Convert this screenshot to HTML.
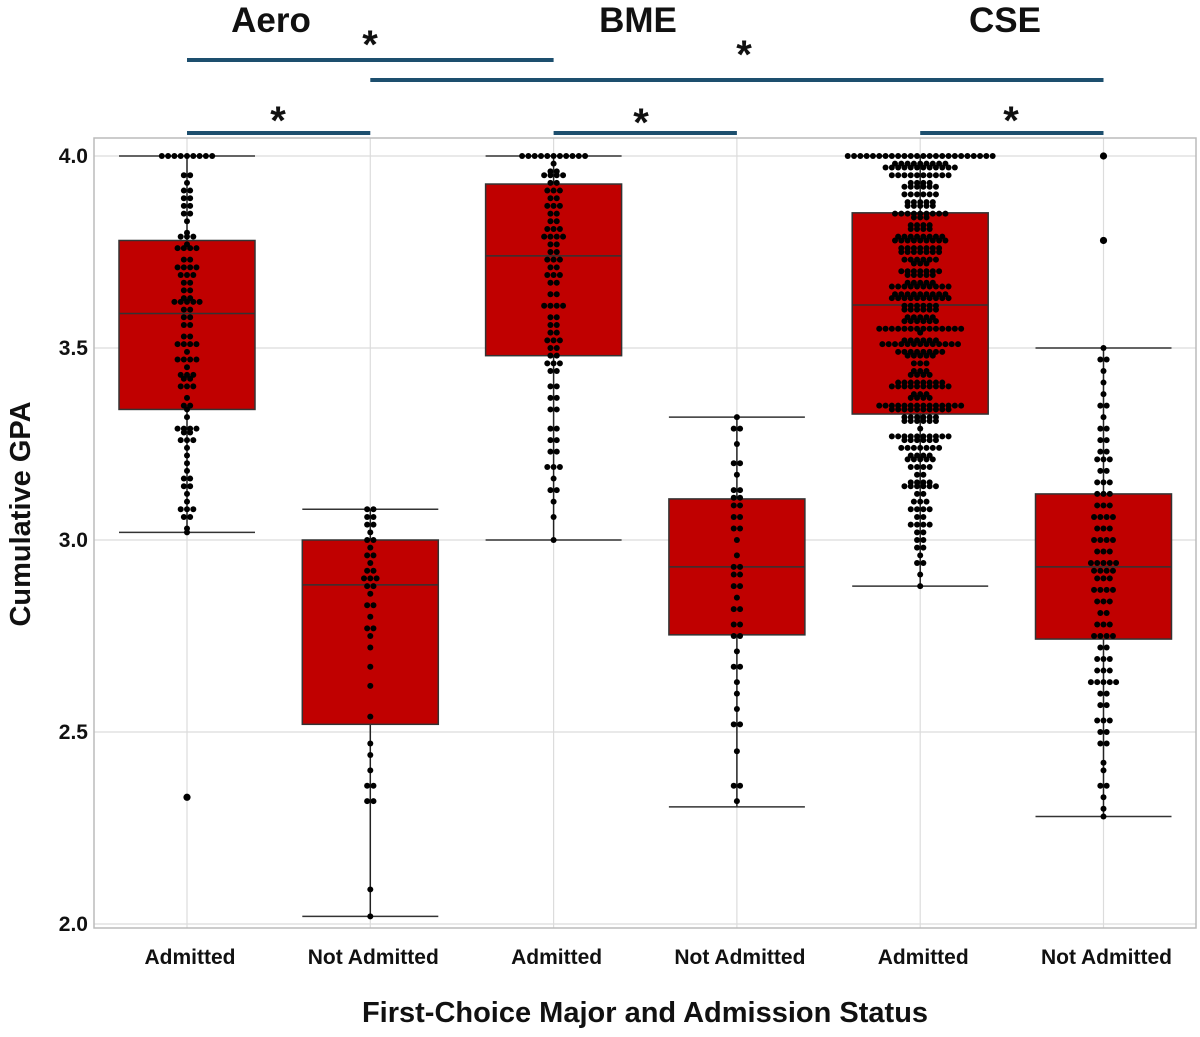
<!DOCTYPE html>
<html><head><meta charset="utf-8"><style>
body{margin:0;background:#fff;}
svg text{font-family:"Liberation Sans",Arial,sans-serif;font-weight:bold;fill:#111;}
</style></head><body>
<svg id="chart" width="1200" height="1032" xmlns="http://www.w3.org/2000/svg"></svg>
<script>
const categories=["Admitted","Not Admitted","Admitted","Not Admitted","Admitted","Not Admitted"];
const majors=["Aero","BME","CSE"];
const yTicks=[2.0,2.5,3.0,3.5,4.0];
const q1=[3.34,2.52,3.48,2.753,3.328,2.742];
const medians=[3.59,2.883,3.74,2.93,3.612,2.93];
const q3=[3.78,3.0,3.927,3.107,3.852,3.12];
const whiskLo=[3.02,2.02,3.0,2.305,2.88,2.28];
const whiskHi=[4.0,3.08,4.0,3.32,4.0,3.5];
const outliers=[[2.33],[],[],[],[],[4.0,3.78]];
const vals0=[4.00,3.95,3.93,3.91,3.89,3.87,3.85,3.83,3.80,3.79,3.77,3.76,3.73,3.71,3.69,3.67,3.65,3.63,3.62,3.60,3.58,3.56,3.53,3.51,3.49,3.47,3.45,3.43,3.42,3.40,3.37,3.35,3.34,3.32,3.29,3.28,3.26,3.24,3.22,3.20,3.18,3.16,3.14,3.12,3.10,3.08,3.06,3.03,3.02,2.33];
const cnt0=[9,2,1,2,2,2,2,1,1,3,1,4,2,4,3,2,2,2,5,2,2,2,2,4,1,4,1,3,2,3,1,2,1,1,4,2,3,1,1,1,1,2,2,1,1,3,2,1,1,1];
const vals1=[3.08,3.06,3.04,3.02,3.0,2.98,2.96,2.94,2.92,2.90,2.88,2.86,2.83,2.80,2.77,2.75,2.72,2.67,2.62,2.54,2.47,2.44,2.40,2.36,2.32,2.09,2.02];
const cnt1=[2,2,2,1,2,1,2,1,2,3,2,1,2,1,2,1,1,1,1,1,1,1,1,2,2,1,1];
const vals2=[4.00,3.98,3.96,3.95,3.93,3.91,3.89,3.87,3.85,3.83,3.81,3.79,3.77,3.75,3.73,3.71,3.69,3.67,3.64,3.61,3.58,3.56,3.54,3.52,3.50,3.48,3.46,3.44,3.40,3.37,3.34,3.29,3.26,3.23,3.19,3.16,3.13,3.10,3.06,3.0];
const cnt2=[11,1,2,4,2,3,2,3,2,2,3,4,2,2,3,2,3,2,2,4,2,2,2,3,2,2,3,2,2,2,2,2,2,2,3,1,2,1,1,1];
const vals3=[3.32,3.29,3.25,3.20,3.17,3.13,3.11,3.09,3.06,3.03,3.0,2.96,2.93,2.91,2.88,2.85,2.82,2.78,2.75,2.71,2.67,2.63,2.60,2.56,2.52,2.45,2.36,2.32];
const cnt3=[1,2,1,2,1,2,2,2,2,2,1,1,2,2,2,1,2,2,2,1,2,1,1,1,2,1,2,1];
const vals4=[4.00,3.98,3.97,3.95,3.93,3.92,3.90,3.88,3.87,3.85,3.84,3.82,3.81,3.79,3.78,3.76,3.75,3.73,3.72,3.70,3.69,3.67,3.66,3.64,3.63,3.61,3.60,3.58,3.57,3.55,3.54,3.52,3.51,3.49,3.48,3.46,3.44,3.43,3.41,3.40,3.38,3.37,3.35,3.34,3.32,3.31,3.29,3.27,3.26,3.24,3.22,3.21,3.19,3.17,3.15,3.14,3.12,3.10,3.08,3.06,3.04,3.02,3.00,2.98,2.96,2.94,2.91,2.88];
const cnt4=[24,9,12,10,4,6,6,5,5,9,3,4,4,8,9,7,7,6,3,7,5,5,10,9,10,6,6,5,6,14,1,6,13,8,5,3,3,4,8,10,3,4,14,10,6,6,1,10,6,7,4,5,4,2,4,6,2,3,4,2,4,2,2,2,1,2,1,1];
const vals5=[4.0,3.78,3.50,3.47,3.44,3.41,3.38,3.35,3.32,3.29,3.26,3.23,3.21,3.18,3.15,3.12,3.09,3.06,3.03,3.0,2.97,2.94,2.92,2.90,2.87,2.84,2.81,2.78,2.75,2.72,2.69,2.66,2.63,2.60,2.57,2.53,2.50,2.47,2.42,2.40,2.36,2.33,2.30,2.28];
const cnt5=[1,1,1,2,1,1,1,2,1,2,2,2,3,2,3,3,3,4,3,4,3,5,4,3,4,3,2,3,4,2,3,3,5,2,2,3,2,2,1,1,2,1,1,1];
const allVals=[vals0,vals1,vals2,vals3,vals4,vals5];
const allCnt=[cnt0,cnt1,cnt2,cnt3,cnt4,cnt5];

const NS="http://www.w3.org/2000/svg";
const svg=document.getElementById('chart');
const L=94,R=1196,T=138,B=928;
const y=v=>156+(4-v)*384;
const x=i=>187+i*183.3;
function mk(tag,attrs,parent){const e=document.createElementNS(NS,tag);for(const k in attrs)e.setAttribute(k,attrs[k]);(parent||svg).appendChild(e);return e;}

let g=mk('g',{});


yTicks.forEach(t=>{mk('line',{x1:L,x2:R,y1:y(t),y2:y(t),stroke:'#dcdcdc','stroke-width':1.2},g);});
categories.forEach((c,i)=>{mk('line',{x1:x(i),x2:x(i),y1:T,y2:B,stroke:'#dcdcdc','stroke-width':1.2},g);});
let fr=mk('rect',{x:L,y:T,width:R-L,height:B-T,fill:'none',stroke:'#bbb','stroke-width':1.5});



yTicks.forEach(t=>{let e=mk('text',{x:88,y:y(t)+7,'text-anchor':'end','font-size':21});e.textContent=t.toFixed(1);

});
categories.forEach((c,i)=>{let e=mk('text',{x:x(i)+3,y:964,'text-anchor':'middle','font-size':21});e.textContent=c;

});

const hw=68;
categories.forEach((c,i)=>{
  const bg=mk('g',{});
  
  
  const cx=x(i);
  mk('line',{x1:cx,x2:cx,y1:y(whiskHi[i]),y2:y(whiskLo[i]),stroke:'#222','stroke-width':1.5},bg);
  mk('rect',{x:cx-hw,y:y(q3[i]),width:2*hw,height:y(q1[i])-y(q3[i]),fill:'#c00000',stroke:'#333','stroke-width':1.5},bg);
  mk('line',{x1:cx-hw,x2:cx+hw,y1:y(medians[i]),y2:y(medians[i]),stroke:'#333','stroke-width':1.5},bg);
  [whiskHi[i],whiskLo[i]].forEach(v=>mk('line',{x1:cx-hw,x2:cx+hw,y1:y(v),y2:y(v),stroke:'#333','stroke-width':1.5},bg));
  outliers[i].forEach(v=>mk('circle',{cx:cx,cy:y(v),r:3.6,fill:'#000'},bg));
  const sg=mk('g',{});
  
  
  allVals[i].forEach((v,j)=>{const n=allCnt[i][j];for(let k=0;k<n;k++){const off=(k-(n-1)/2)*6.3;mk('circle',{cx:cx+off,cy:y(v),r:3,fill:'#000'},sg);}});
});

majors.forEach((m,j)=>{let e=mk('text',{x:271+j*367,y:32,'text-anchor':'middle','font-size':35});e.textContent=m;

});
const sig=[[0,2,60,370,58],[1,5,80,744,68],[0,1,133,278,134],[2,3,133,641,136],[4,5,133,1011,134]];
sig.forEach(s=>{const sgp=mk('g',{});
  
  
  mk('line',{x1:x(s[0]),x2:x(s[1]),y1:s[2],y2:s[2],stroke:'#1d4f6e','stroke-width':4},sgp);
  let t=mk('text',{x:s[3],y:s[4],'text-anchor':'middle','font-size':40},sgp);t.textContent='*';});

let xt=mk('text',{x:645,y:1022,'text-anchor':'middle','font-size':29});xt.textContent='First-Choice Major and Admission Status';


let yt=mk('text',{x:0,y:0,'text-anchor':'middle','font-size':29,transform:'translate(30,514) rotate(-90)'});yt.textContent='Cumulative GPA';


</script>
</body></html>
